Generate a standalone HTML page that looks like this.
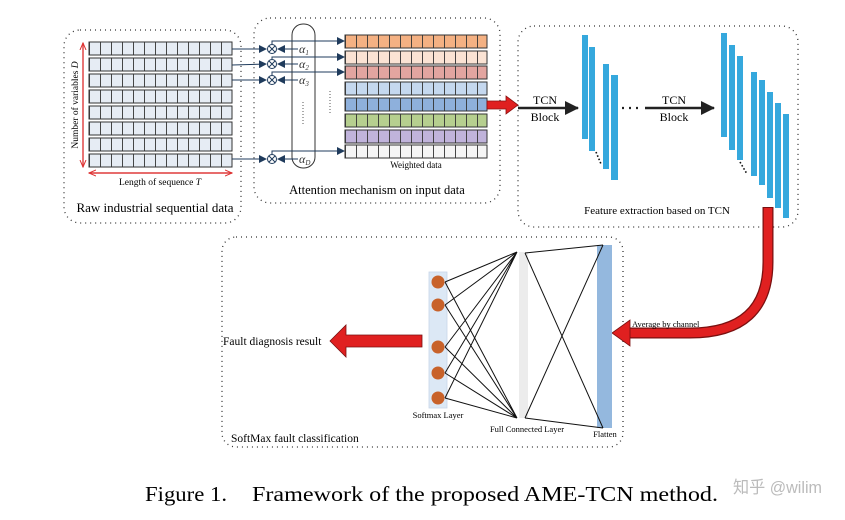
<!DOCTYPE html>
<html><head><meta charset="utf-8"><style>
html,body{margin:0;padding:0;background:#fff;}
svg{display:block;font-family:"Liberation Serif",serif;}
</style></head><body>
<svg width="845" height="520" viewBox="0 0 845 520" xmlns="http://www.w3.org/2000/svg">
<defs>
<pattern id="v1" x="89" y="0" width="11" height="10" patternUnits="userSpaceOnUse"><line x1="0.5" y1="0" x2="0.5" y2="10" stroke="#333" stroke-width="0.9"/></pattern>
<pattern id="v2" x="345" y="0" width="11" height="10" patternUnits="userSpaceOnUse"><line x1="0.5" y1="0" x2="0.5" y2="10" stroke="#333" stroke-width="0.9"/></pattern>
<marker id="ah" markerWidth="8" markerHeight="8" refX="7" refY="4" orient="auto" markerUnits="userSpaceOnUse"><path d="M0,0 L8,4 L0,8 z" fill="#1f3b5c"/></marker>
<marker id="bh" markerWidth="14" markerHeight="14" refX="13" refY="7" orient="auto" markerUnits="userSpaceOnUse"><path d="M0,0 L14,7 L0,14 z" fill="#222"/></marker>
<marker id="rh1" markerWidth="8" markerHeight="8" refX="7" refY="4" orient="auto" markerUnits="userSpaceOnUse"><path d="M0,1 L7,4 L0,7" fill="none" stroke="#d33" stroke-width="1"/></marker>
</defs>

<g fill="none" stroke="#333" stroke-width="1.3" stroke-dasharray="1 4">
<rect x="64" y="30" width="177" height="193" rx="16"/>
<rect x="254" y="18" width="246" height="185" rx="16"/>
<rect x="518" y="26" width="280" height="201" rx="16"/>
<rect x="222" y="237" width="401" height="210" rx="14"/>
</g>

<g stroke="#333" stroke-width="1">
<rect x="89" y="42" width="143" height="13" fill="#e6ecf4"/>
<rect x="89" y="58" width="143" height="13" fill="#e6ecf4"/>
<rect x="89" y="74" width="143" height="13" fill="#e6ecf4"/>
<rect x="89" y="90" width="143" height="13" fill="#e6ecf4"/>
<rect x="89" y="106" width="143" height="13" fill="#e6ecf4"/>
<rect x="89" y="122" width="143" height="13" fill="#e6ecf4"/>
<rect x="89" y="138" width="143" height="13" fill="#e6ecf4"/>
<rect x="89" y="154" width="143" height="13" fill="#e6ecf4"/>
</g>
<g stroke="none" fill="url(#v1)">
<rect x="89" y="42" width="143" height="13"/><rect x="89" y="58" width="143" height="13"/>
<rect x="89" y="74" width="143" height="13"/><rect x="89" y="90" width="143" height="13"/>
<rect x="89" y="106" width="143" height="13"/><rect x="89" y="122" width="143" height="13"/>
<rect x="89" y="138" width="143" height="13"/><rect x="89" y="154" width="143" height="13"/>
</g>
<line x1="83" y1="167" x2="83" y2="43" stroke="#d33" stroke-width="1.2" marker-end="url(#rh1)"/>
<line x1="83" y1="43" x2="83" y2="167" stroke="#d33" stroke-width="1.2" marker-end="url(#rh1)"/>
<line x1="89" y1="173" x2="232" y2="173" stroke="#d33" stroke-width="1.2" marker-end="url(#rh1)"/>
<line x1="232" y1="173" x2="89" y2="173" stroke="#d33" stroke-width="1.2" marker-end="url(#rh1)"/>
<text x="160" y="185" font-size="9.5" text-anchor="middle">Length of sequence <tspan font-style="italic">T</tspan></text>
<text transform="translate(78,105) rotate(-90)" font-size="9.5" text-anchor="middle">Number of variables <tspan font-style="italic">D</tspan></text>
<text x="155" y="212" font-size="13" text-anchor="middle">Raw industrial sequential data</text>

<rect x="292" y="24" width="23" height="144" rx="11" fill="none" stroke="#333" stroke-width="1"/>
<g stroke="#1f3b5c" stroke-width="1" fill="none">
<line x1="232" y1="49" x2="266" y2="49" marker-end="url(#ah)"/>
<line x1="232" y1="65" x2="266" y2="64" marker-end="url(#ah)"/>
<line x1="232" y1="80" x2="266" y2="80" marker-end="url(#ah)"/>
<line x1="232" y1="159" x2="266" y2="159" marker-end="url(#ah)"/>
<line x1="298" y1="49" x2="278" y2="49" marker-end="url(#ah)"/>
<line x1="298" y1="64" x2="278" y2="64" marker-end="url(#ah)"/>
<line x1="298" y1="80" x2="278" y2="80" marker-end="url(#ah)"/>
<line x1="298" y1="159" x2="278" y2="159" marker-end="url(#ah)"/>
<path d="M272,44 V41 H344" marker-end="url(#ah)"/>
<path d="M272,59 V57 H344" marker-end="url(#ah)"/>
<path d="M272,75 V72 H344" marker-end="url(#ah)"/>
<path d="M272,154 V151 H344" marker-end="url(#ah)"/>
</g>
<g fill="#fff" stroke="#1f3b5c" stroke-width="1">
<circle cx="272" cy="49" r="4.5"/><circle cx="272" cy="64" r="4.5"/><circle cx="272" cy="80" r="4.5"/><circle cx="272" cy="159" r="4.5"/>
</g>
<g stroke="#1f3b5c" stroke-width="1">
<path d="M269,46 l6,6 M275,46 l-6,6 M269,61 l6,6 M275,61 l-6,6 M269,77 l6,6 M275,77 l-6,6 M269,156 l6,6 M275,156 l-6,6"/>
</g>
<g font-size="12" font-style="italic" fill="#333">
<text x="299" y="53">α<tspan font-size="7" dy="2">1</tspan></text>
<text x="299" y="68">α<tspan font-size="7" dy="2">2</tspan></text>
<text x="299" y="84">α<tspan font-size="7" dy="2">3</tspan></text>
<text x="299" y="163">α<tspan font-size="7" dy="2">D</tspan></text>
</g>
<line x1="303" y1="102" x2="303" y2="124" stroke="#555" stroke-width="1" stroke-dasharray="1 2"/>
<line x1="330" y1="91" x2="330" y2="115" stroke="#555" stroke-width="1" stroke-dasharray="1 2"/>

<g stroke="#333" stroke-width="1">
<rect x="345" y="35" width="142" height="13" fill="#f4b183"/>
<rect x="345" y="51" width="142" height="13" fill="#fbe3d4"/>
<rect x="345" y="66" width="142" height="13" fill="#e3a5a0"/>
<rect x="345" y="82" width="142" height="13" fill="#c5d8ef"/>
<rect x="345" y="98" width="142" height="13" fill="#8eb0dc"/>
<rect x="345" y="114" width="142" height="13" fill="#b6cf8f"/>
<rect x="345" y="130" width="142" height="13" fill="#c0b3db"/>
<rect x="345" y="145" width="142" height="13" fill="#f5f5f5"/>
</g>
<g fill="url(#v2)">
<rect x="345" y="35" width="142" height="13"/><rect x="345" y="51" width="142" height="13"/>
<rect x="345" y="66" width="142" height="13"/><rect x="345" y="82" width="142" height="13"/>
<rect x="345" y="98" width="142" height="13"/><rect x="345" y="114" width="142" height="13"/>
<rect x="345" y="130" width="142" height="13"/><rect x="345" y="145" width="142" height="13"/>
</g>
<text x="416" y="168" font-size="9" text-anchor="middle">Weighted data</text>
<text x="377" y="194" font-size="12.5" text-anchor="middle">Attention mechanism on input data</text>

<path d="M487,101 H506 V96 L518,105 L506,114 V109 H487 Z" fill="#e02020" stroke="#8b1010" stroke-width="0.8"/>

<g fill="#35a8dd">
<rect x="582" y="35" width="6" height="104"/><rect x="589" y="47" width="6" height="104"/>
<rect x="603" y="64" width="6" height="105"/><rect x="611" y="75" width="7" height="105"/>
<rect x="721" y="33" width="6" height="104"/><rect x="729" y="45" width="6" height="105"/>
<rect x="737" y="56" width="6" height="104"/><rect x="751" y="72" width="6" height="104"/>
<rect x="759" y="80" width="6" height="105"/><rect x="767" y="92" width="6" height="106"/>
<rect x="775" y="103" width="6" height="105"/><rect x="783" y="114" width="6" height="104"/>
</g>
<line x1="596" y1="152" x2="601" y2="164" stroke="#111" stroke-width="1.6" stroke-dasharray="1.6 2"/>
<line x1="740" y1="162" x2="747" y2="174" stroke="#111" stroke-width="1.6" stroke-dasharray="1.6 2"/>
<line x1="518" y1="108" x2="578" y2="108" stroke="#222" stroke-width="2.5" marker-end="url(#bh)"/>
<line x1="622" y1="108" x2="643" y2="108" stroke="#222" stroke-width="2.2" stroke-dasharray="2 5"/>
<line x1="645" y1="108" x2="714" y2="108" stroke="#222" stroke-width="2.5" marker-end="url(#bh)"/>
<g font-size="12" text-anchor="middle">
<text x="545" y="104">TCN</text><text x="545" y="121">Block</text>
<text x="674" y="104">TCN</text><text x="674" y="121">Block</text>
</g>
<text x="657" y="214" font-size="11" text-anchor="middle">Feature extraction based on TCN</text>

<path d="M768,207 V262 Q768,333 690,333 H628" fill="none" stroke="#7a1010" stroke-width="11"/>
<path d="M768,208 V262 Q768,333 690,333 H627" fill="none" stroke="#e02020" stroke-width="8.5"/>
<path d="M612,333 L630,320 L630,346 Z" fill="#e02020" stroke="#7a1010" stroke-width="0.8"/>
<text x="632" y="327" font-size="8.5">Average by channel</text>

<rect x="429" y="272" width="18" height="136" fill="#dce8f5" stroke="#c8d6e8" stroke-width="0.8"/>
<rect x="519" y="252" width="9" height="166" fill="#ececec"/>
<rect x="597" y="245" width="15" height="183" fill="#94b8de"/>
<g stroke="#111" stroke-width="1" fill="none">
<path d="M445,282 L517,252 M445,305 L517,252 M445,347 L517,252 M445,373 L517,252 M445,398 L517,252
M445,282 L517,418 M445,305 L517,418 M445,347 L517,418 M445,373 L517,418 M445,398 L517,418"/>
<path d="M525,253 L603,245 M525,418 L603,428 M525,253 L603,428 M525,418 L603,245"/>
</g>
<g fill="#c8622a">
<circle cx="438" cy="282" r="6.5"/><circle cx="438" cy="305" r="6.5"/><circle cx="438" cy="347" r="6.5"/>
<circle cx="438" cy="373" r="6.5"/><circle cx="438" cy="398" r="6.5"/>
</g>
<g font-size="8.5" text-anchor="middle">
<text x="438" y="418">Softmax Layer</text>
<text x="527" y="432">Full Connected Layer</text>
<text x="605" y="437">Flatten</text>
</g>
<text x="231" y="442" font-size="11.5">SoftMax fault classification</text>
<path d="M422,335 H346 V325 L330,341 L346,357 V347 H422 Z" fill="#e02020" stroke="#7a1010" stroke-width="0.8"/>
<text x="223" y="345" font-size="11.5">Fault diagnosis result</text>

<text x="145" y="501" font-size="21" textLength="82" lengthAdjust="spacingAndGlyphs">Figure 1.</text>
<text x="252" y="501" font-size="21" textLength="466" lengthAdjust="spacingAndGlyphs">Framework of the proposed AME-TCN method.</text>
<text x="733" y="493" font-size="17" fill="#bbb" font-family="Liberation Sans, Noto Sans CJK SC, sans-serif" textLength="89" lengthAdjust="spacingAndGlyphs">知乎 @wilim</text>
</svg>
</body></html>
